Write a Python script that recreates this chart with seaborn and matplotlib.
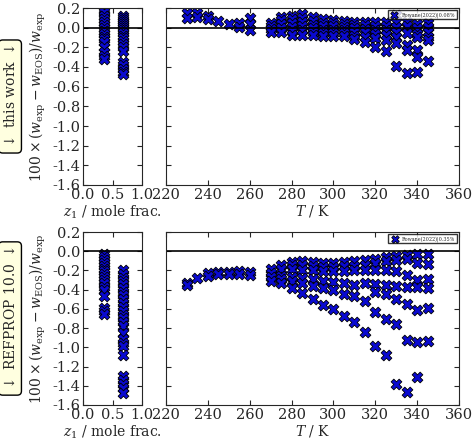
import numpy as np
import pandas as pd
import seaborn as sns
import matplotlib.pyplot as plt

sns.set_style("ticks")
plt.rcParams['font.family'] = ['DejaVu Serif']
plt.rcParams['mathtext.fontset'] = 'dejavuserif'

# deviations per temperature, this work (top) and REFPROP 10.0 (bottom)
temps = [230, 235, 240, 245, 250, 255, 260, 270, 275, 280, 285, 290, 295,
         300, 305, 310, 315, 320, 325, 330, 335, 340, 345]
dev_top = [
    [0.15, 0.10], [0.15, 0.11], [0.12, 0.09], [0.07], [0.04], [0.05, 0.01],
    [0.10, 0.04, -0.02], [0.05, 0.02, -0.01, -0.04],
    [0.11, 0.08, 0.04, 0.0, -0.04], [0.12, 0.09, 0.05, 0.01, -0.03, -0.07],
    [0.14, 0.10, 0.06, 0.02, -0.02, -0.07], [0.11, 0.07, 0.03, 0.0, -0.04, -0.07],
    [0.09, 0.05, 0.02, -0.02, -0.05, -0.08], [0.08, 0.05, 0.02, -0.02, -0.05, -0.08],
    [0.07, 0.04, 0.01, -0.02, -0.05, -0.08], [0.06, 0.03, 0.0, -0.04, -0.08, -0.12],
    [0.06, 0.03, -0.01, -0.04, -0.09, -0.15], [0.06, 0.02, -0.02, -0.06, -0.11, -0.20],
    [0.06, 0.02, -0.02, -0.07, -0.13, -0.24],
    [0.13, 0.06, 0.01, -0.04, -0.10, -0.16, -0.39],
    [0.06, 0.02, -0.05, -0.18, -0.23, -0.46],
    [0.04, 0.00, -0.06, -0.10, -0.23, -0.30, -0.45],
    [0.05, 0.01, -0.04, -0.09, -0.13, -0.34],
]
dev_bot = [
    [-0.33, -0.35], [-0.28], [-0.23, -0.26], [-0.22, -0.24], [-0.22, -0.24],
    [-0.21, -0.24], [-0.22, -0.25], [-0.18, -0.23, -0.27, -0.31],
    [-0.14, -0.19, -0.26, -0.29, -0.33], [-0.11, -0.14, -0.19, -0.27, -0.31, -0.38],
    [-0.10, -0.14, -0.20, -0.28, -0.33, -0.43], [-0.11, -0.15, -0.20, -0.29, -0.36, -0.50],
    [-0.12, -0.16, -0.21, -0.31, -0.38, -0.56], [-0.12, -0.16, -0.21, -0.32, -0.40, -0.60],
    [-0.11, -0.15, -0.21, -0.33, -0.44, -0.67], [-0.10, -0.15, -0.20, -0.35, -0.47, -0.74],
    [-0.09, -0.14, -0.20, -0.33, -0.52, -0.84],
    [-0.08, -0.12, -0.20, -0.34, -0.42, -0.63, -0.99],
    [-0.06, -0.10, -0.20, -0.35, -0.45, -0.71, -1.08],
    [-0.05, -0.09, -0.21, -0.36, -0.50, -0.76, -1.38],
    [-0.04, -0.08, -0.25, -0.37, -0.55, -0.92, -1.46],
    [-0.03, -0.12, -0.30, -0.37, -0.61, -0.94, -1.31],
    [-0.03, -0.13, -0.29, -0.38, -0.59, -0.93],
]

# deviations vs composition
z_low, z_high = 0.35, 0.67
ztop_low = [0.19, 0.16, 0.12, 0.09, 0.06, 0.03, 0.0, -0.03, -0.06, -0.09, -0.12, -0.15, -0.2, -0.25, -0.29, -0.32]
ztop_high = [0.12, 0.10, 0.08, 0.06, 0.04, 0.02, 0.0, -0.02, -0.05, -0.08, -0.11, -0.14, -0.17, -0.2, -0.24, -0.35, -0.38, -0.42, -0.45, -0.47]
zbot_low = [-0.03, -0.06, -0.09, -0.12, -0.15, -0.18, -0.21, -0.24, -0.27, -0.30, -0.33, -0.37, -0.40, -0.47, -0.59, -0.62, -0.65]
zbot_high = [-0.20, -0.24, -0.28, -0.31, -0.34, -0.38, -0.42, -0.46, -0.50, -0.54, -0.58, -0.62, -0.66, -0.70, -0.74, -0.78, -0.85, -0.91, -0.95, -0.99, -1.08, -1.30, -1.34, -1.38, -1.42, -1.47]

panels = [
    (dev_top, ztop_low, ztop_high, 'Rowane(2022)|0.08%', r'$\downarrow$ this work $\downarrow$'),
    (dev_bot, zbot_low, zbot_high, 'Rowane(2022)|0.35%', r'$\downarrow$ REFPROP 10.0 $\downarrow$'),
]

fig = plt.figure(figsize=(4.74, 4.46), dpi=100)
W, H = 474, 446
rows = [(8, 185), (232, 405)]

mk = dict(marker='X', s=60, color='#0a0ad0', edgecolor='black', linewidth=0.6)

for (dev, zl, zh, leg, box), (ytop, ybot) in zip(panels, rows):
    b = 1 - ybot / H
    h = (ybot - ytop) / H
    axl = fig.add_axes([83 / W, b, (142 - 83) / W, h])
    axr = fig.add_axes([166 / W, b, (459 - 166) / W, h])

    dz = pd.DataFrame({'z': [z_low] * len(zl) + [z_high] * len(zh), 'd': zl + zh})
    sns.scatterplot(data=dz, x='z', y='d', ax=axl, legend=False, **mk)
    rows_t = [(t, v) for t, vs in zip(temps, dev) for v in vs]
    dt = pd.DataFrame(rows_t, columns=['T', 'd'])
    sns.scatterplot(data=dt, x='T', y='d', ax=axr, label=leg, **mk)

    for ax in (axl, axr):
        ax.axhline(0, color='black', lw=1.2)
        ax.set_ylim(-1.6, 0.2)
        ax.tick_params(direction='in', labelsize=10.5, top=True, right=True, pad=2)
    axl.set_xlim(0, 1)
    axl.set_xticks([0, 0.5, 1.0])
    axl.set_xticklabels(['0.0', '0.5', '1.0'])
    yt = np.arange(-1.6, 0.21, 0.2)
    axl.set_yticks(yt)
    axl.set_yticklabels(['%.1f' % v if abs(v) > 1e-9 else '0.0' for v in yt])
    axr.set_yticks(yt)
    axr.set_yticklabels([])
    axr.set_ylabel('')
    axr.set_xlim(220, 360)
    axr.set_xticks(range(220, 361, 20))
    axl.set_xlabel(r'$z_1$ / mole frac.', fontsize=10, labelpad=1)
    axr.set_xlabel(r'$T$ / K', fontsize=10, labelpad=1)
    axl.set_ylabel(r'$100\times(w_{\rm exp}-w_{\rm EOS})/w_{\rm exp}$', fontsize=10, labelpad=3)
    lg = axr.legend(loc='upper right', fontsize=3.5, frameon=True, fancybox=False,
                    markerscale=0.7, borderpad=0.3, handletextpad=0.5)
    lg.get_frame().set_edgecolor('black')
    fig.text(10 / W, b + h / 2, box, rotation=90, va='center', ha='center', fontsize=10,
             bbox=dict(boxstyle='round,pad=0.3', fc='#ffffe0', ec='black'))

fig.savefig('out.png', dpi=100)
